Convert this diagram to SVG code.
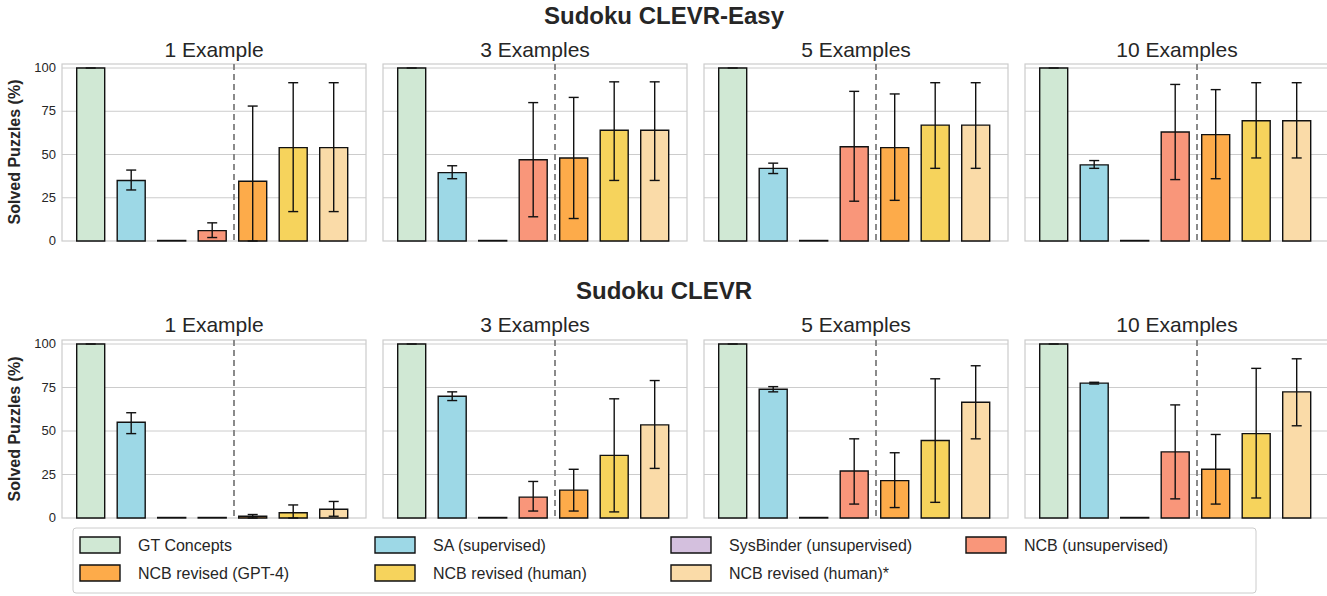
<svg xmlns="http://www.w3.org/2000/svg" width="1327" height="596" viewBox="0 0 1327 596">
<style>
text{font-family:"Liberation Sans",Arial,sans-serif;fill:#262626}
.t{font-size:24px;font-weight:bold;text-anchor:middle}
.s{font-size:21px;text-anchor:middle}
.k{font-size:13px;text-anchor:end}
.yl{font-size:16px;font-weight:bold;text-anchor:middle}
.lg{font-size:16px}
.fr{fill:none;stroke:#cccccc;stroke-width:1.2}
.g{stroke:#cccccc;stroke-width:1}
.d{stroke:#8a8a8a;stroke-width:2;stroke-dasharray:6 4}
rect.b,.e line{stroke:#111;stroke-width:1.4;vector-effect:non-scaling-stroke}
.e line{stroke-width:1.4}
.c0{fill:#d0e8d4}.c1{fill:#9dd8e6}.c2{fill:#d4c0de}.c3{fill:#f9967a}.c4{fill:#fdab4a}.c5{fill:#f6d35c}.c6{fill:#fadba8}
</style>
<defs>
<g id="frT"><rect class="fr" x="62" y="64" width="304" height="177"/><line class="g" x1="62" x2="366" y1="197.75" y2="197.75"/><line class="g" x1="62" x2="366" y1="154.5" y2="154.5"/><line class="g" x1="62" x2="366" y1="111.25" y2="111.25"/><line class="g" x1="62" x2="366" y1="68" y2="68"/><line class="d" x1="234" x2="234" y1="64" y2="241"/></g>
<g id="frB"><rect class="fr" x="62" y="340" width="304" height="178"/><line class="g" x1="62" x2="366" y1="474.5" y2="474.5"/><line class="g" x1="62" x2="366" y1="431" y2="431"/><line class="g" x1="62" x2="366" y1="387.5" y2="387.5"/><line class="g" x1="62" x2="366" y1="344" y2="344"/><line class="d" x1="234" x2="234" y1="340" y2="518"/></g>
</defs>
<text class="t" x="664" y="24">Sudoku CLEVR-Easy</text>
<text class="t" x="664" y="299">Sudoku CLEVR</text>
<text class="s" x="214" y="57">1 Example</text><text class="s" x="535" y="57">3 Examples</text><text class="s" x="856" y="57">5 Examples</text><text class="s" x="1177" y="57">10 Examples</text>
<text class="s" x="214" y="332">1 Example</text><text class="s" x="535" y="332">3 Examples</text><text class="s" x="856" y="332">5 Examples</text><text class="s" x="1177" y="332">10 Examples</text>
<text class="yl" transform="translate(20,152) rotate(-90)">Solved Puzzles (%)</text>
<text class="yl" transform="translate(20,429) rotate(-90)">Solved Puzzles (%)</text>
<g class="k"><text class="k" x="56" y="245">0</text><text class="k" x="56" y="202">25</text><text class="k" x="56" y="159">50</text><text class="k" x="56" y="115">75</text><text class="k" x="56" y="72">100</text>
<text class="k" x="56" y="522">0</text><text class="k" x="56" y="479">25</text><text class="k" x="56" y="435">50</text><text class="k" x="56" y="392">75</text><text class="k" x="56" y="348">100</text></g>
<use href="#frT"/><use href="#frT" x="321"/><use href="#frT" x="642"/><use href="#frT" x="963"/>
<use href="#frB"/><use href="#frB" x="321"/><use href="#frB" x="642"/><use href="#frB" x="963"/>
<!-- top row -->
<g id="t1" transform="translate(0,241) scale(1,-1.73)">
<rect class="b c0" x="76.7" y="0" width="28" height="100"/><rect class="b c1" x="117.2" y="0" width="28" height="35"/><rect class="b c2" x="157.7" y="0" width="28" height="0.3"/><rect class="b c3" x="198.2" y="0" width="28" height="6"/><rect class="b c4" x="238.7" y="0" width="28" height="34.5"/><rect class="b c5" x="279.2" y="0" width="28" height="54"/><rect class="b c6" x="319.7" y="0" width="28" height="54"/>
<g class="e"><line x1="85.7" x2="95.7" y1="100" y2="100"/>
<line x1="131.2" x2="131.2" y1="29.5" y2="41"/><line x1="126.2" x2="136.2" y1="29.5" y2="29.5"/><line x1="126.2" x2="136.2" y1="41" y2="41"/>
<line x1="212.2" x2="212.2" y1="2" y2="10.5"/><line x1="207.2" x2="217.2" y1="2" y2="2"/><line x1="207.2" x2="217.2" y1="10.5" y2="10.5"/>
<line x1="252.7" x2="252.7" y1="0" y2="78"/><line x1="247.7" x2="257.7" y1="0" y2="0"/><line x1="247.7" x2="257.7" y1="78" y2="78"/>
<line x1="293.2" x2="293.2" y1="17" y2="91.5"/><line x1="288.2" x2="298.2" y1="17" y2="17"/><line x1="288.2" x2="298.2" y1="91.5" y2="91.5"/>
<line x1="333.7" x2="333.7" y1="17" y2="91.5"/><line x1="328.7" x2="338.7" y1="17" y2="17"/><line x1="328.7" x2="338.7" y1="91.5" y2="91.5"/></g></g>
<g id="t2" transform="translate(321,241) scale(1,-1.73)">
<rect class="b c0" x="76.7" y="0" width="28" height="100"/><rect class="b c1" x="117.2" y="0" width="28" height="39.5"/><rect class="b c2" x="157.7" y="0" width="28" height="0.3"/><rect class="b c3" x="198.2" y="0" width="28" height="47"/><rect class="b c4" x="238.7" y="0" width="28" height="48"/><rect class="b c5" x="279.2" y="0" width="28" height="64"/><rect class="b c6" x="319.7" y="0" width="28" height="64"/>
<g class="e"><line x1="85.7" x2="95.7" y1="100" y2="100"/>
<line x1="131.2" x2="131.2" y1="36" y2="43.5"/><line x1="126.2" x2="136.2" y1="36" y2="36"/><line x1="126.2" x2="136.2" y1="43.5" y2="43.5"/>
<line x1="212.2" x2="212.2" y1="14" y2="80"/><line x1="207.2" x2="217.2" y1="14" y2="14"/><line x1="207.2" x2="217.2" y1="80" y2="80"/>
<line x1="252.7" x2="252.7" y1="13" y2="83"/><line x1="247.7" x2="257.7" y1="13" y2="13"/><line x1="247.7" x2="257.7" y1="83" y2="83"/>
<line x1="293.2" x2="293.2" y1="35" y2="92"/><line x1="288.2" x2="298.2" y1="35" y2="35"/><line x1="288.2" x2="298.2" y1="92" y2="92"/>
<line x1="333.7" x2="333.7" y1="35" y2="92"/><line x1="328.7" x2="338.7" y1="35" y2="35"/><line x1="328.7" x2="338.7" y1="92" y2="92"/></g></g>
<g id="t3" transform="translate(642,241) scale(1,-1.73)">
<rect class="b c0" x="76.7" y="0" width="28" height="100"/><rect class="b c1" x="117.2" y="0" width="28" height="42"/><rect class="b c2" x="157.7" y="0" width="28" height="0.3"/><rect class="b c3" x="198.2" y="0" width="28" height="54.5"/><rect class="b c4" x="238.7" y="0" width="28" height="54"/><rect class="b c5" x="279.2" y="0" width="28" height="67"/><rect class="b c6" x="319.7" y="0" width="28" height="67"/>
<g class="e"><line x1="85.7" x2="95.7" y1="100" y2="100"/>
<line x1="131.2" x2="131.2" y1="39" y2="45"/><line x1="126.2" x2="136.2" y1="39" y2="39"/><line x1="126.2" x2="136.2" y1="45" y2="45"/>
<line x1="212.2" x2="212.2" y1="23" y2="86.5"/><line x1="207.2" x2="217.2" y1="23" y2="23"/><line x1="207.2" x2="217.2" y1="86.5" y2="86.5"/>
<line x1="252.7" x2="252.7" y1="23.5" y2="85"/><line x1="247.7" x2="257.7" y1="23.5" y2="23.5"/><line x1="247.7" x2="257.7" y1="85" y2="85"/>
<line x1="293.2" x2="293.2" y1="42" y2="91.5"/><line x1="288.2" x2="298.2" y1="42" y2="42"/><line x1="288.2" x2="298.2" y1="91.5" y2="91.5"/>
<line x1="333.7" x2="333.7" y1="42" y2="91.5"/><line x1="328.7" x2="338.7" y1="42" y2="42"/><line x1="328.7" x2="338.7" y1="91.5" y2="91.5"/></g></g>
<g id="t4" transform="translate(963,241) scale(1,-1.73)">
<rect class="b c0" x="76.7" y="0" width="28" height="100"/><rect class="b c1" x="117.2" y="0" width="28" height="44"/><rect class="b c2" x="157.7" y="0" width="28" height="0.3"/><rect class="b c3" x="198.2" y="0" width="28" height="63"/><rect class="b c4" x="238.7" y="0" width="28" height="61.5"/><rect class="b c5" x="279.2" y="0" width="28" height="69.5"/><rect class="b c6" x="319.7" y="0" width="28" height="69.5"/>
<g class="e"><line x1="85.7" x2="95.7" y1="100" y2="100"/>
<line x1="131.2" x2="131.2" y1="42" y2="46.5"/><line x1="126.2" x2="136.2" y1="42" y2="42"/><line x1="126.2" x2="136.2" y1="46.5" y2="46.5"/>
<line x1="212.2" x2="212.2" y1="35.5" y2="90.5"/><line x1="207.2" x2="217.2" y1="35.5" y2="35.5"/><line x1="207.2" x2="217.2" y1="90.5" y2="90.5"/>
<line x1="252.7" x2="252.7" y1="36" y2="87.5"/><line x1="247.7" x2="257.7" y1="36" y2="36"/><line x1="247.7" x2="257.7" y1="87.5" y2="87.5"/>
<line x1="293.2" x2="293.2" y1="48" y2="91.5"/><line x1="288.2" x2="298.2" y1="48" y2="48"/><line x1="288.2" x2="298.2" y1="91.5" y2="91.5"/>
<line x1="333.7" x2="333.7" y1="48" y2="91.5"/><line x1="328.7" x2="338.7" y1="48" y2="48"/><line x1="328.7" x2="338.7" y1="91.5" y2="91.5"/></g></g>
<!-- bottom row -->
<g id="b1" transform="translate(0,518) scale(1,-1.74)">
<rect class="b c0" x="76.7" y="0" width="28" height="100"/><rect class="b c1" x="117.2" y="0" width="28" height="55"/><rect class="b c2" x="157.7" y="0" width="28" height="0.3"/><rect class="b c3" x="198.2" y="0" width="28" height="0.3"/><rect class="b c4" x="238.7" y="0" width="28" height="1"/><rect class="b c5" x="279.2" y="0" width="28" height="3"/><rect class="b c6" x="319.7" y="0" width="28" height="5"/>
<g class="e"><line x1="85.7" x2="95.7" y1="100" y2="100"/>
<line x1="131.2" x2="131.2" y1="48.5" y2="60.5"/><line x1="126.2" x2="136.2" y1="48.5" y2="48.5"/><line x1="126.2" x2="136.2" y1="60.5" y2="60.5"/>
<line x1="252.7" x2="252.7" y1="0" y2="2"/><line x1="247.7" x2="257.7" y1="0" y2="0"/><line x1="247.7" x2="257.7" y1="2" y2="2"/>
<line x1="293.2" x2="293.2" y1="0" y2="7.5"/><line x1="288.2" x2="298.2" y1="0" y2="0"/><line x1="288.2" x2="298.2" y1="7.5" y2="7.5"/>
<line x1="333.7" x2="333.7" y1="1" y2="9.5"/><line x1="328.7" x2="338.7" y1="1" y2="1"/><line x1="328.7" x2="338.7" y1="9.5" y2="9.5"/></g></g>
<g id="b2" transform="translate(321,518) scale(1,-1.74)">
<rect class="b c0" x="76.7" y="0" width="28" height="100"/><rect class="b c1" x="117.2" y="0" width="28" height="70"/><rect class="b c2" x="157.7" y="0" width="28" height="0.3"/><rect class="b c3" x="198.2" y="0" width="28" height="12"/><rect class="b c4" x="238.7" y="0" width="28" height="16"/><rect class="b c5" x="279.2" y="0" width="28" height="36"/><rect class="b c6" x="319.7" y="0" width="28" height="53.5"/>
<g class="e"><line x1="85.7" x2="95.7" y1="100" y2="100"/>
<line x1="131.2" x2="131.2" y1="67.5" y2="72.5"/><line x1="126.2" x2="136.2" y1="67.5" y2="67.5"/><line x1="126.2" x2="136.2" y1="72.5" y2="72.5"/>
<line x1="212.2" x2="212.2" y1="4" y2="21"/><line x1="207.2" x2="217.2" y1="4" y2="4"/><line x1="207.2" x2="217.2" y1="21" y2="21"/>
<line x1="252.7" x2="252.7" y1="4" y2="28"/><line x1="247.7" x2="257.7" y1="4" y2="4"/><line x1="247.7" x2="257.7" y1="28" y2="28"/>
<line x1="293.2" x2="293.2" y1="3.5" y2="68.5"/><line x1="288.2" x2="298.2" y1="3.5" y2="3.5"/><line x1="288.2" x2="298.2" y1="68.5" y2="68.5"/>
<line x1="333.7" x2="333.7" y1="28.5" y2="79"/><line x1="328.7" x2="338.7" y1="28.5" y2="28.5"/><line x1="328.7" x2="338.7" y1="79" y2="79"/></g></g>
<g id="b3" transform="translate(642,518) scale(1,-1.74)">
<rect class="b c0" x="76.7" y="0" width="28" height="100"/><rect class="b c1" x="117.2" y="0" width="28" height="74"/><rect class="b c2" x="157.7" y="0" width="28" height="0.3"/><rect class="b c3" x="198.2" y="0" width="28" height="27"/><rect class="b c4" x="238.7" y="0" width="28" height="21.5"/><rect class="b c5" x="279.2" y="0" width="28" height="44.5"/><rect class="b c6" x="319.7" y="0" width="28" height="66.5"/>
<g class="e"><line x1="85.7" x2="95.7" y1="100" y2="100"/>
<line x1="131.2" x2="131.2" y1="72.5" y2="75.5"/><line x1="126.2" x2="136.2" y1="72.5" y2="72.5"/><line x1="126.2" x2="136.2" y1="75.5" y2="75.5"/>
<line x1="212.2" x2="212.2" y1="8" y2="45.5"/><line x1="207.2" x2="217.2" y1="8" y2="8"/><line x1="207.2" x2="217.2" y1="45.5" y2="45.5"/>
<line x1="252.7" x2="252.7" y1="6" y2="37.5"/><line x1="247.7" x2="257.7" y1="6" y2="6"/><line x1="247.7" x2="257.7" y1="37.5" y2="37.5"/>
<line x1="293.2" x2="293.2" y1="9" y2="80"/><line x1="288.2" x2="298.2" y1="9" y2="9"/><line x1="288.2" x2="298.2" y1="80" y2="80"/>
<line x1="333.7" x2="333.7" y1="45.5" y2="87.5"/><line x1="328.7" x2="338.7" y1="45.5" y2="45.5"/><line x1="328.7" x2="338.7" y1="87.5" y2="87.5"/></g></g>
<g id="b4" transform="translate(963,518) scale(1,-1.74)">
<rect class="b c0" x="76.7" y="0" width="28" height="100"/><rect class="b c1" x="117.2" y="0" width="28" height="77.5"/><rect class="b c2" x="157.7" y="0" width="28" height="0.3"/><rect class="b c3" x="198.2" y="0" width="28" height="38"/><rect class="b c4" x="238.7" y="0" width="28" height="28"/><rect class="b c5" x="279.2" y="0" width="28" height="48.5"/><rect class="b c6" x="319.7" y="0" width="28" height="72.5"/>
<g class="e"><line x1="85.7" x2="95.7" y1="100" y2="100"/>
<line x1="126.2" x2="136.2" y1="77" y2="77"/><line x1="126.2" x2="136.2" y1="78" y2="78"/>
<line x1="212.2" x2="212.2" y1="11" y2="65"/><line x1="207.2" x2="217.2" y1="11" y2="11"/><line x1="207.2" x2="217.2" y1="65" y2="65"/>
<line x1="252.7" x2="252.7" y1="8" y2="48"/><line x1="247.7" x2="257.7" y1="8" y2="8"/><line x1="247.7" x2="257.7" y1="48" y2="48"/>
<line x1="293.2" x2="293.2" y1="11.5" y2="86"/><line x1="288.2" x2="298.2" y1="11.5" y2="11.5"/><line x1="288.2" x2="298.2" y1="86" y2="86"/>
<line x1="333.7" x2="333.7" y1="53" y2="91.5"/><line x1="328.7" x2="338.7" y1="53" y2="53"/><line x1="328.7" x2="338.7" y1="91.5" y2="91.5"/></g></g>
<!-- legend -->
<g id="legend">
<rect x="73" y="528" width="1183" height="65" rx="3" fill="#fff" stroke="#cccccc"/>
<rect class="b c0" x="80" y="537" width="40" height="16"/><text class="lg" x="138" y="551">GT Concepts</text>
<rect class="b c1" x="375" y="537" width="40" height="16"/><text class="lg" x="433" y="551">SA (supervised)</text>
<rect class="b c2" x="671" y="537" width="40" height="16"/><text class="lg" x="729" y="551">SysBinder (unsupervised)</text>
<rect class="b c3" x="966" y="537" width="40" height="16"/><text class="lg" x="1024" y="551">NCB (unsupervised)</text>
<rect class="b c4" x="80" y="565" width="40" height="16"/><text class="lg" x="138" y="579">NCB revised (GPT-4)</text>
<rect class="b c5" x="375" y="565" width="40" height="16"/><text class="lg" x="433" y="579">NCB revised (human)</text>
<rect class="b c6" x="671" y="565" width="40" height="16"/><text class="lg" x="729" y="579">NCB revised (human)*</text>
</g>
</svg>
